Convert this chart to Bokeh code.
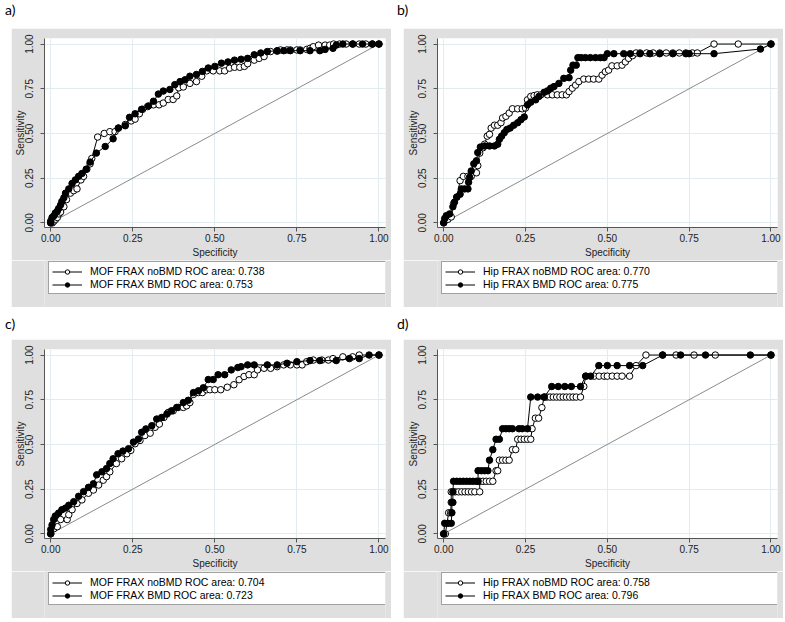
from bokeh.plotting import figure
from bokeh.models import Range1d, FixedTicker, PrintfTickFormatter, Legend, LegendItem, Div
from bokeh.layouts import column, row
from bokeh.embed import file_html
from bokeh.resources import INLINE

# ---------------- data ----------------
TICKS = [0.0, 0.25, 0.5, 0.75, 1.0]
DIAG = [(0.0, 0.0), (1.0, 1.0)]
PANEL_LABELS = ["a)", "b)", "c)", "d)"]
X_TITLE = "Specificity"
Y_TITLE = "Sensitivity"

a_labels = ["MOF FRAX noBMD ROC area: 0.738", "MOF FRAX BMD ROC area: 0.753"]
b_labels = ["Hip FRAX noBMD ROC area: 0.770", "Hip FRAX BMD ROC area: 0.775"]
c_labels = ["MOF FRAX noBMD ROC area: 0.704", "MOF FRAX BMD ROC area: 0.723"]
d_labels = ["Hip FRAX noBMD ROC area: 0.758", "Hip FRAX BMD ROC area: 0.796"]

a_nobmd = [(0, 0), (0.005, 0.0), (0.01, 0.01), (0.015, 0.02), (0.02, 0.03), (0.025, 0.05), (0.03, 0.06),
           (0.04, 0.09), (0.048, 0.13), (0.06, 0.166), (0.07, 0.18), (0.08, 0.19), (0.092, 0.24),
           (0.10, 0.26), (0.11, 0.30), (0.12, 0.33), (0.125, 0.36), (0.143, 0.48), (0.163, 0.50),
           (0.18, 0.51), (0.196, 0.51), (0.206, 0.53), (0.227, 0.55), (0.245, 0.57), (0.257, 0.58),
           (0.27, 0.61), (0.28, 0.635), (0.295, 0.65), (0.313, 0.66), (0.33, 0.66), (0.343, 0.67),
           (0.358, 0.69), (0.373, 0.69), (0.384, 0.71), (0.39, 0.755), (0.404, 0.76), (0.424, 0.78),
           (0.444, 0.79), (0.46, 0.82), (0.475, 0.85), (0.495, 0.85), (0.515, 0.85), (0.53, 0.85),
           (0.545, 0.865), (0.56, 0.87), (0.576, 0.87), (0.59, 0.875), (0.60, 0.89), (0.62, 0.91),
           (0.635, 0.92), (0.65, 0.93), (0.67, 0.958), (0.69, 0.96), (0.70, 0.967), (0.72, 0.967),
           (0.73, 0.967), (0.75, 0.967), (0.76, 0.967), (0.78, 0.97), (0.79, 0.976), (0.80, 0.985),
           (0.816, 0.994), (0.836, 0.994), (0.85, 0.994), (0.862, 1.0), (0.88, 1.0), (0.90, 1.0),
           (0.92, 1.0), (0.94, 1.0), (0.96, 1.0), (0.98, 1.0), (1.0, 1.0)]
a_bmd = [(0, 0), (0, 0.01), (0.004, 0.03), (0.01, 0.04), (0.014, 0.055), (0.02, 0.065), (0.024, 0.08),
         (0.03, 0.1), (0.034, 0.12), (0.04, 0.14), (0.045, 0.166), (0.055, 0.19), (0.065, 0.22),
         (0.075, 0.24), (0.085, 0.26), (0.095, 0.276), (0.108, 0.30), (0.12, 0.34), (0.139, 0.39),
         (0.166, 0.427), (0.19, 0.47), (0.206, 0.53), (0.227, 0.543), (0.24, 0.59), (0.257, 0.61),
         (0.277, 0.635), (0.298, 0.654), (0.313, 0.68), (0.328, 0.72), (0.343, 0.737), (0.363, 0.746),
         (0.378, 0.773), (0.394, 0.79), (0.409, 0.80), (0.424, 0.82), (0.444, 0.83), (0.462, 0.847),
         (0.48, 0.866), (0.5, 0.875), (0.52, 0.893), (0.54, 0.90), (0.56, 0.91), (0.58, 0.915),
         (0.60, 0.92), (0.62, 0.94), (0.64, 0.95), (0.66, 0.958), (0.69, 0.963), (0.71, 0.963),
         (0.73, 0.963), (0.76, 0.963), (0.79, 0.963), (0.82, 0.963), (0.836, 0.97), (0.86, 0.976),
         (0.87, 0.994), (0.89, 1.0), (0.92, 1.0), (0.95, 1.0), (0.98, 1.0), (1.0, 1.0)]

b_nobmd = [(0, 0), (0.013, 0.02), (0.023, 0.033), (0.03, 0.107), (0.04, 0.144), (0.05, 0.236),
           (0.06, 0.26), (0.074, 0.26), (0.084, 0.26), (0.1, 0.28), (0.104, 0.32), (0.11, 0.39),
           (0.12, 0.42), (0.125, 0.44), (0.133, 0.485), (0.14, 0.495), (0.145, 0.53), (0.155, 0.546),
           (0.165, 0.546), (0.175, 0.56), (0.18, 0.587), (0.19, 0.596), (0.2, 0.614), (0.21, 0.638),
           (0.226, 0.638), (0.24, 0.638), (0.25, 0.642), (0.256, 0.688), (0.266, 0.707), (0.276, 0.712),
           (0.286, 0.716), (0.297, 0.716), (0.317, 0.716), (0.332, 0.716), (0.347, 0.716), (0.362, 0.716),
           (0.375, 0.716), (0.383, 0.734), (0.393, 0.753), (0.403, 0.77), (0.413, 0.79), (0.428, 0.804),
           (0.443, 0.804), (0.458, 0.804), (0.474, 0.804), (0.484, 0.826), (0.494, 0.845), (0.504, 0.854),
           (0.514, 0.878), (0.53, 0.878), (0.545, 0.882), (0.555, 0.90), (0.565, 0.92), (0.577, 0.935),
           (0.588, 0.95), (0.60, 0.95), (0.62, 0.95), (0.64, 0.95), (0.66, 0.95), (0.68, 0.95),
           (0.70, 0.95), (0.72, 0.95), (0.74, 0.95), (0.76, 0.95), (0.775, 0.95), (0.826, 1.0),
           (0.90, 1.0), (1.0, 1.0)]
b_bmd = [(0, 0), (0.003, 0.024), (0.008, 0.04), (0.018, 0.05), (0.028, 0.09), (0.033, 0.116),
         (0.04, 0.144), (0.05, 0.16), (0.054, 0.19), (0.064, 0.19), (0.074, 0.19), (0.076, 0.227),
         (0.079, 0.255), (0.084, 0.29), (0.092, 0.33), (0.1, 0.347), (0.104, 0.393), (0.112, 0.424),
         (0.125, 0.43), (0.14, 0.43), (0.155, 0.43), (0.165, 0.44), (0.17, 0.467), (0.177, 0.485),
         (0.185, 0.504), (0.193, 0.522), (0.203, 0.53), (0.214, 0.546), (0.226, 0.56), (0.236, 0.577),
         (0.246, 0.592), (0.256, 0.66), (0.266, 0.675), (0.281, 0.688), (0.291, 0.707), (0.307, 0.73),
         (0.317, 0.738), (0.327, 0.753), (0.337, 0.762), (0.352, 0.78), (0.367, 0.808), (0.383, 0.812),
         (0.388, 0.854), (0.395, 0.882), (0.405, 0.882), (0.41, 0.924), (0.42, 0.924), (0.433, 0.924),
         (0.448, 0.924), (0.464, 0.924), (0.479, 0.924), (0.49, 0.924), (0.50, 0.946), (0.52, 0.946),
         (0.55, 0.946), (0.57, 0.946), (0.60, 0.946), (0.63, 0.946), (0.66, 0.946), (0.70, 0.946),
         (0.74, 0.946), (0.75, 0.946), (0.826, 0.946), (0.968, 0.972), (1.0, 1.0)]

c_nobmd = [(0, 0), (0.009, 0.028), (0.02, 0.04), (0.03, 0.08), (0.05, 0.08), (0.055, 0.107),
           (0.065, 0.135), (0.08, 0.17), (0.095, 0.19), (0.115, 0.227), (0.13, 0.245), (0.146, 0.273),
           (0.16, 0.3), (0.17, 0.32), (0.18, 0.347), (0.2, 0.393), (0.216, 0.42), (0.232, 0.448),
           (0.244, 0.467), (0.257, 0.504), (0.272, 0.522), (0.287, 0.55), (0.303, 0.563), (0.318, 0.596),
           (0.331, 0.614), (0.345, 0.651), (0.358, 0.679), (0.373, 0.688), (0.389, 0.707), (0.404, 0.707),
           (0.414, 0.716), (0.424, 0.734), (0.435, 0.78), (0.45, 0.79), (0.462, 0.79), (0.475, 0.806),
           (0.485, 0.806), (0.5, 0.806), (0.518, 0.806), (0.538, 0.82), (0.558, 0.834), (0.574, 0.862),
           (0.589, 0.88), (0.604, 0.89), (0.62, 0.89), (0.63, 0.917), (0.65, 0.926), (0.67, 0.926),
           (0.69, 0.935), (0.71, 0.945), (0.73, 0.945), (0.75, 0.945), (0.766, 0.945), (0.78, 0.963),
           (0.80, 0.972), (0.826, 0.972), (0.846, 0.972), (0.86, 0.98), (0.89, 0.99), (0.92, 0.99),
           (0.94, 1.0), (1.0, 1.0)]
c_bmd = [(0, 0), (0, 0.024), (0.004, 0.05), (0.009, 0.08), (0.014, 0.1), (0.024, 0.116), (0.034, 0.135),
         (0.045, 0.144), (0.055, 0.16), (0.07, 0.18), (0.085, 0.21), (0.1, 0.236), (0.115, 0.26),
         (0.13, 0.28), (0.14, 0.33), (0.156, 0.347), (0.17, 0.365), (0.18, 0.393), (0.19, 0.42),
         (0.205, 0.448), (0.22, 0.463), (0.237, 0.476), (0.252, 0.513), (0.267, 0.53), (0.277, 0.568),
         (0.29, 0.587), (0.308, 0.605), (0.323, 0.642), (0.338, 0.651), (0.354, 0.67), (0.368, 0.688),
         (0.384, 0.707), (0.404, 0.734), (0.419, 0.747), (0.435, 0.79), (0.45, 0.8), (0.465, 0.817),
         (0.48, 0.863), (0.495, 0.863), (0.51, 0.89), (0.53, 0.89), (0.55, 0.917), (0.57, 0.93),
         (0.58, 0.935), (0.6, 0.945), (0.62, 0.945), (0.66, 0.945), (0.69, 0.945), (0.72, 0.954),
         (0.75, 0.963), (0.79, 0.969), (0.82, 0.969), (0.87, 0.969), (0.91, 0.98), (0.94, 0.98),
         (0.97, 1.0), (1.0, 1.0)]

d_nobmd = [(0, 0), (0.005, 0.0), (0.015, 0.118), (0.021, 0.118), (0.023, 0.176), (0.023, 0.235),
           (0.035, 0.235), (0.045, 0.235), (0.055, 0.235), (0.065, 0.235), (0.075, 0.235), (0.085, 0.235),
           (0.095, 0.235), (0.11, 0.235), (0.11, 0.294), (0.12, 0.294), (0.13, 0.294), (0.14, 0.294),
           (0.15, 0.294), (0.16, 0.353), (0.165, 0.353), (0.17, 0.412), (0.18, 0.412), (0.19, 0.412),
           (0.2, 0.412), (0.21, 0.471), (0.22, 0.471), (0.226, 0.529), (0.236, 0.529), (0.246, 0.529),
           (0.256, 0.529), (0.266, 0.529), (0.27, 0.588), (0.28, 0.647), (0.29, 0.647), (0.30, 0.706),
           (0.307, 0.765), (0.315, 0.765), (0.325, 0.765), (0.335, 0.765), (0.345, 0.765), (0.355, 0.765),
           (0.365, 0.765), (0.375, 0.765), (0.385, 0.765), (0.395, 0.765), (0.405, 0.765), (0.418, 0.765),
           (0.428, 0.824), (0.434, 0.882), (0.46, 0.882), (0.475, 0.882), (0.49, 0.882), (0.5, 0.882),
           (0.515, 0.882), (0.53, 0.882), (0.545, 0.882), (0.568, 0.882), (0.588, 0.941), (0.618, 1.0),
           (0.669, 1.0), (0.71, 1.0), (0.765, 1.0), (0.83, 1.0), (1.0, 1.0)]
d_bmd = [(0, 0), (0.003, 0.059), (0.013, 0.059), (0.023, 0.059), (0.025, 0.118), (0.025, 0.176),
         (0.028, 0.176), (0.028, 0.235), (0.03, 0.294), (0.04, 0.294), (0.05, 0.294), (0.06, 0.294),
         (0.07, 0.294), (0.08, 0.294), (0.09, 0.294), (0.1, 0.294), (0.105, 0.294), (0.105, 0.353),
         (0.115, 0.353), (0.125, 0.353), (0.135, 0.353), (0.14, 0.412), (0.15, 0.471), (0.16, 0.529),
         (0.17, 0.529), (0.18, 0.588), (0.19, 0.588), (0.2, 0.588), (0.21, 0.588), (0.23, 0.588),
         (0.24, 0.588), (0.256, 0.588), (0.266, 0.765), (0.287, 0.765), (0.307, 0.765), (0.33, 0.824),
         (0.35, 0.824), (0.37, 0.824), (0.39, 0.824), (0.418, 0.824), (0.434, 0.882), (0.449, 0.882),
         (0.474, 0.941), (0.5, 0.941), (0.53, 0.941), (0.568, 0.941), (0.608, 0.941), (0.669, 1.0),
         (0.724, 1.0), (0.80, 1.0), (0.937, 1.0), (1.0, 1.0)]

# ---------------- styling ----------------
FONT = "Liberation Sans"
PANEL_BG = "#dfdfdf"
AXIS_COL = "#555555"
TEXT_COL = "#222222"
GRID_COL = "#e2ecee"
MARKER_SIZE = 6.5


def split(pairs):
    return [p[0] for p in pairs], [p[1] for p in pairs]


def series(fig, nobmd, bmd):
    ox, oy = split(nobmd)
    fx, fy = split(bmd)
    l1 = fig.line(ox, oy, line_color="black", line_width=1)
    s1 = fig.scatter(ox, oy, marker="circle", size=MARKER_SIZE, fill_color="white",
                     line_color="black", line_width=1)
    l2 = fig.line(fx, fy, line_color="black", line_width=1)
    s2 = fig.scatter(fx, fy, marker="circle", size=MARKER_SIZE, fill_color="black",
                     line_color="black", line_width=1)
    return l1, s1, l2, s2


def panel(nobmd, bmd, labels, left_margin, border_left):
    p = figure(width=380, height=232,
               x_range=Range1d(-0.019, 1.020), y_range=Range1d(-0.026, 1.031),
               output_backend="svg", toolbar_location=None,
               min_border_left=border_left, min_border_right=6, min_border_top=10, min_border_bottom=30,
               background_fill_color="white", border_fill_color=PANEL_BG,
               outline_line_color=None)
    p.margin = (0, 0, 0, left_margin)
    for ax in (p.xaxis[0], p.yaxis[0]):
        ax.ticker = FixedTicker(ticks=TICKS)
        ax.formatter = PrintfTickFormatter(format="%.2f")
        ax.major_label_text_font = FONT
        ax.major_label_text_font_size = "10px"
        ax.major_label_text_color = TEXT_COL
        ax.axis_label_text_font = FONT
        ax.axis_label_text_font_size = "10px"
        ax.axis_label_text_font_style = "normal"
        ax.axis_label_text_color = TEXT_COL
        ax.axis_line_color = AXIS_COL
        ax.major_tick_line_color = AXIS_COL
        ax.minor_tick_line_color = None
        ax.major_tick_out = 4
        ax.major_tick_in = 0
    p.xaxis.major_label_standoff = 2
    p.xaxis.axis_label_standoff = 2
    p.yaxis.major_label_standoff = 7
    p.yaxis.axis_label_standoff = -3
    p.xaxis.axis_label = X_TITLE
    p.yaxis.axis_label = Y_TITLE
    p.yaxis.major_label_orientation = "vertical"
    p.grid.grid_line_color = GRID_COL

    dx, dy = split(DIAG)
    p.line(dx, dy, line_color="#8a8a8a", line_width=1)
    series(p, nobmd, bmd)

    # legend strip below the axes (same gray box); its own renderers sit outside its ranges
    q = figure(width=380, height=47, x_range=Range1d(5, 6), y_range=Range1d(5, 6),
               x_axis_type=None, y_axis_type=None, output_backend="svg", toolbar_location=None,
               min_border=0, background_fill_color=PANEL_BG, border_fill_color=PANEL_BG,
               outline_line_color=None)
    q.grid.visible = False
    q.margin = (0, 0, 0, left_margin)
    m1, n1, m2, n2 = series(q, nobmd, bmd)
    leg = Legend(items=[LegendItem(label=labels[0], renderers=[m1, n1]),
                        LegendItem(label=labels[1], renderers=[m2, n2])],
                 location=(4, 13), orientation="vertical", margin=0, padding=3, spacing=1,
                 glyph_width=30, glyph_height=11, label_height=11, label_width=292, label_standoff=8,
                 label_text_font=FONT, label_text_font_size="10.5px", label_text_color="black",
                 border_line_color="#444444", border_line_width=1,
                 background_fill_color="white", background_fill_alpha=1.0)
    q.add_layout(leg, "center")
    return column(p, q)


def label_div(text, width, height, top):
    html = ('<div style="margin-top:%dpx;margin-left:5px;font-family:Lato;font-size:14px;'
            'line-height:14px;color:#000;">%s</div>' % (top, text))
    return Div(text=html, width=width, height=height, margin=(0, 0, 0, 0))


pa = panel(a_nobmd, a_bmd, a_labels, 11, 32)
pb = panel(b_nobmd, b_bmd, b_labels, 12, 34)
pc = panel(c_nobmd, c_bmd, c_labels, 11, 32)
pd_ = panel(d_nobmd, d_bmd, d_labels, 12, 34)

layout = column(
    row(label_div(PANEL_LABELS[0], 392, 28, 3), label_div(PANEL_LABELS[1], 390, 28, 3)),
    row(pa, pb),
    row(label_div(PANEL_LABELS[2], 392, 32, 10), label_div(PANEL_LABELS[3], 390, 32, 10)),
    row(pc, pd_),
)

open("out.html", "w").write(file_html(layout, INLINE))
